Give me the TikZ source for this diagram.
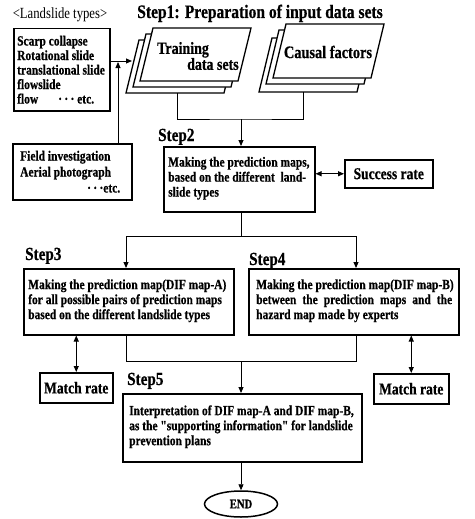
\documentclass[tikz,border=0pt]{standalone}
\usepackage{fontspec}
\setmainfont{Liberation Serif}[FakeStretch=0.82, BoldFeatures={FakeBold=0.6}]
\newcommand\qq{{\addfontfeatures{Ligatures=TeXOff}"}}
\usetikzlibrary{arrows.meta,shapes.geometric,calc}
\begin{document}
\begin{tikzpicture}[x=1pt,y=-1pt,
  box/.style={draw, line width=1.5pt, fill=white, inner sep=0pt, anchor=north west},
  btext/.style={anchor=west, inner sep=0pt, align=left, font=\bfseries\fontsize{14}{15}\selectfont},
  ratebox/.style={draw, line width=1.5pt, fill=white, inner sep=0pt, anchor=north west,
    font=\bfseries\fontsize{16.5}{18}\selectfont},
  pg/.style={draw, line width=1.3pt, fill=white, line join=miter},
  ln/.style={line width=0.9pt},
  arr/.style={line width=0.9pt, -{Triangle[length=6pt,width=5pt]}},
  darr/.style={line width=0.9pt, {Triangle[length=6pt,width=5pt]}-{Triangle[length=6pt,width=5pt]}},
  steplabel/.style={anchor=base west, inner sep=0pt, font=\bfseries\fontsize{18.5}{20}\selectfont}
]
\useasboundingbox (0,0) rectangle (474,519);

% title
\node[anchor=base, inner sep=0pt, font=\bfseries\fontsize{19}{22}\selectfont] (title) at (260,18) {Step1: Preparation of input data sets};

% landslide types
\node[inner sep=0pt, font=\fontsize{15.5}{17}\selectfont] (lstitle) at (60,15) {<Landslide types>};
\node[box, minimum width=96pt, minimum height=82pt] (ls) at (13,28) {};
\node[btext, font=\bfseries\fontsize{14}{14.5}\selectfont] (lst) at ([xshift=4pt]ls.west)
  {Scarp collapse\\Rotational slide\\translational slide\\flowslide\\flow\hspace{20pt}·\,·\,·\ etc.};

% field investigation
\node[box, minimum width=119pt, minimum height=56pt] (fi) at (12,143) {};
\node[btext, font=\bfseries\fontsize{14}{16}\selectfont] (fit) at ([xshift=8pt]fi.west)
  {Field investigation\\Aerial photograph\\\hspace*{67pt}·\,·\,·etc.};

% training stack
\foreach \d/\e in {14/12,7/6,0/0}
  \draw[pg] (153-\d,28+\e) -- (251-\d,28+\e) -- (238-\d,81+\e) -- (140-\d,81+\e) -- cycle;
\node[anchor=west, inner sep=0pt, align=left, font=\bfseries\fontsize{17}{16}\selectfont] (trt) at (157,56)
  {Training\\\hspace*{30pt}data sets};

% causal stack
\foreach \d/\e in {14/14,7/6,0/0}
  \draw[pg] (286-\d,24+\e) -- (384-\d,24+\e) -- (371-\d,78+\e) -- (273-\d,78+\e) -- cycle;
\node[inner sep=0pt, font=\bfseries\fontsize{17.5}{19}\selectfont] (cft) at (328,52) {Causal factors};

% connectors step1
\coordinate (tb) at (177,93);
\coordinate (cb) at (303,92);
\coordinate (j1) at (241,119);
\draw[ln] (tb) |- (j1) -| (cb);
\coordinate (trin) at (132,61);
\draw[arr] (trin -| ls.east) -- (trin);
\coordinate (up) at (118,62);
\draw[arr] (fi.north -| up) -- (up);

% step 2
\node[steplabel] (st2) at (158,141) {Step2};
\node[box, minimum width=151pt, minimum height=65pt] (s2) at (163,146) {};
\node[btext] (s2t) at ([xshift=5pt,yshift=1pt]s2.west)
  {Making the prediction maps,\\based on the different\ \ land-\\slide types};
\draw[arr] (j1) -- (j1 |- s2.north);
\node[ratebox, minimum width=88pt, minimum height=28pt] (sr) at (344,159) {Success rate};
\draw[darr] (sr.west -| s2.east) -- (sr.west);

% split
\coordinate (j2) at (241,236);
\coordinate (c3) at (126,236);
\coordinate (c4) at (356,236);
\draw[ln] (s2.south -| j2) -- (j2);
\draw[ln] (c3) -- (c4);

% step 3 / 4
\node[steplabel] (st3) at (25,260) {Step3};
\node[steplabel] (st4) at (249,265) {Step4};
\node[box, minimum width=210pt, minimum height=66pt] (s3) at (23,268) {};
\node[btext] (s3t) at ([xshift=5pt,yshift=1pt]s3.west)
  {Making the prediction map(DIF map-A)\\for all possible pairs of prediction maps\\based on the different landslide types};
\node[box, minimum width=210pt, minimum height=66pt] (s4) at (248,268) {};
\node[btext] (s4t) at ([xshift=8pt,yshift=1pt]s4.west)
  {Making the prediction map(DIF map-B)\\\makebox[196pt][s]{between the prediction maps and the}\\hazard map made by experts};
\draw[arr] (c3) -- (c3 |- s3.north);
\draw[arr] (c4) -- (c4 |- s4.north);

% match rates
\node[ratebox, minimum width=73pt, minimum height=30pt] (ml) at (39,372) {Match rate};
\node[ratebox, minimum width=75pt, minimum height=30pt] (mr) at (373,373) {Match rate};
\draw[darr] (s3.south -| ml.north) -- (ml.north);
\draw[darr] (s4.south -| mr.north) -- (mr.north);

% merge
\coordinate (m3) at (126,361);
\coordinate (m4) at (356,361);
\coordinate (m5) at (241,361);
\draw[ln] (s3.south -| m3) -- (m3) -- (m4) -- (s4.south -| m4);

% step 5
\node[steplabel] (st5) at (127,385) {Step5};
\node[box, minimum width=239pt, minimum height=68pt] (s5) at (122,393) {};
\node[btext] (s5t) at ([xshift=7pt,yshift=1pt]s5.west)
  {Interpretation of DIF map-A and DIF map-B,\\as the \qq supporting information\qq\ for landslide\\prevention plans};
\draw[arr] (m5) -- (m5 |- s5.north);

% end
\node[ellipse, draw, line width=1.5pt, minimum width=73pt, minimum height=26pt, inner sep=0pt,
  font=\bfseries\fontsize{13}{15}\selectfont] (end) at (241,504) {END};
\draw[arr] (s5.south -| end.north) -- (end.north);
\end{tikzpicture}
\end{document}
